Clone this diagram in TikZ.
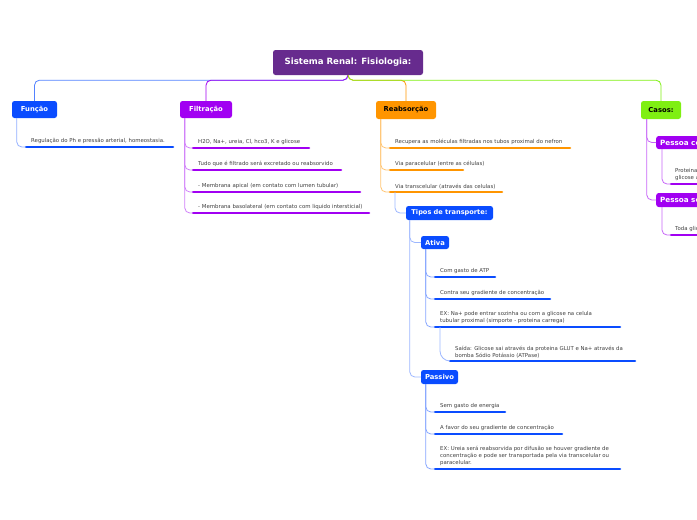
\documentclass[tikz,border=0pt]{standalone}
\usepackage{fontspec}
\setmainfont{DejaVu Sans}
\begin{document}
\begin{tikzpicture}[x=1pt,y=-1pt,
 box/.style={rounded corners=2.5pt,inner sep=0pt,font=\fontsize{6.8}{7}\selectfont\bfseries,text=white},
 leaf/.style={anchor=south west,inner sep=0pt,font=\fontsize{5.4}{7}\selectfont,text=black!75,align=left},
 ul/.style={line width=2.6pt,line cap=round},
 conn/.style={line width=0.8pt,rounded corners=5pt}]
\definecolor{cpurple}{HTML}{672B8E}
\definecolor{cblue}{HTML}{0A4CFF}
\definecolor{cviolet}{HTML}{A100F2}
\definecolor{corange}{HTML}{FF9500}
\definecolor{cgreen}{HTML}{7FEF12}
\useasboundingbox (0,0) rectangle (697,520);
\clip (0,0) rectangle (697,520);
% root
\node[box,fill=cpurple,minimum width=150pt,minimum height=25pt,font=\fontsize{8.6}{9}\selectfont\bfseries] (root) at (348,62.5) {Sistema Renal: Fisiologia:};
\node[box,fill=cblue,minimum width=45pt,minimum height=17pt] (fun) at (34.5,109.5) {Função};
\node[box,fill=cviolet,minimum width=52pt,minimum height=17pt] (fil) at (206,109.5) {Filtração};
\node[box,fill=corange,minimum width=60pt,minimum height=18pt,text=black] (rea) at (406,110) {Reabsorção};
\node[box,fill=cgreen,minimum width=40pt,minimum height=18pt,text=black] (cas) at (661,110) {Casos:};
\draw[conn,cblue!70] (root.south) -- ++(0,5) -| (fun.north);
\draw[conn,cviolet] (root.south) -- ++(0,5) -| (fil.north);
\draw[conn,corange] (root.south) -- ++(0,5) -| (rea.north);
\draw[conn,cgreen] (root.south) -- ++(0,5) -| (cas.north);
% Funcao
\node[leaf] (f1) at (31,144) {Regulação do Ph e pressão arterial, homeostasia.};
\coordinate (f1s) at (26,147); \coordinate (f1e) at (173,147);
\draw[ul,cblue] (f1s) -- (f1e);
\draw[conn,cblue!45] ([xshift=5pt]fun.south west) |- (f1s);
% Filtracao
\foreach \i/\y/\e/\t in {1/148/309/{H2O, Na+, ureia, Cl, hco3, K e glicose},
  2/170/341/{Tudo que é filtrado será excretado ou reabsorvido},
  3/192/360/{- Membrana apical (em contato com lumen tubular)},
  4/213/369/{- Membrana basolateral (em contato com liquido intersticial)}}{
  \node[leaf] (fl\i) at (198,\y-3) {\t};
  \coordinate (fls\i) at (193,\y); \coordinate (fle\i) at (\e,\y);
  \draw[ul,cviolet] (fls\i) -- (fle\i);
  \draw[conn,cviolet!50] ([xshift=5pt]fil.south west) |- (fls\i);
}
% Reabsorcao
\foreach \i/\y/\e/\t in {1/148/570/{Recupera as moléculas filtradas nos tubos proximal do nefron},
  2/170/463/{Via paracelular (entre as células)},
  3/192/502/{Via transcelular (através das celulas)}}{
  \node[leaf] (rl\i) at (395,\y-3) {\t};
  \coordinate (rls\i) at (390,\y); \coordinate (rle\i) at (\e,\y);
  \draw[ul,corange] (rls\i) -- (rle\i);
  \draw[conn,corange!55] ([xshift=5pt]rea.south west) |- (rls\i);
}
\node[box,fill=cblue,minimum width=87pt,minimum height=14pt,font=\fontsize{6.6}{7}\selectfont\bfseries] (tip) at (449.5,213) {Tipos de transporte:};
\draw[conn,cblue!40] ([xshift=5pt]rls3) |- (tip.west);
\node[box,fill=cblue,minimum width=28pt,minimum height=13pt] (ati) at (435,242.5) {Ativa};
\node[box,fill=cblue,minimum width=37pt,minimum height=14pt] (pas) at (439.5,377) {Passivo};
\draw[conn,cblue!40] ([xshift=4pt]tip.south west) |- (ati.west);
\draw[conn,cblue!40] ([xshift=4pt]tip.south west) |- (pas.west);
% Ativa
\foreach \i/\y/\e in {1/277/495,2/299/550,3/327/620}{
  \coordinate (as\i) at (435,\y); \coordinate (ae\i) at (\e,\y);
  \draw[ul,cblue] (as\i) -- (ae\i);
  \draw[conn,cblue!50] ([xshift=5pt]ati.south west) |- (as\i);
}
\node[leaf] (a1) at (440,274) {Com gasto de ATP};
\node[leaf] (a2) at (440,296) {Contra seu gradiente de concentração};
\node[leaf] (a3) at (440,324) {EX: Na+ pode entrar sozinha ou com a glicose na celula\\tubular proximal (simporte - proteina carrega)};
\node[leaf] (a4) at (455,358) {Saída: Glicose sai através da proteina GLUT e Na+ através da\\bomba Sódio Potássio (ATPase)};
\coordinate (a4s) at (450,361); \coordinate (a4e) at (635,361);
\draw[ul,cblue] (a4s) -- (a4e);
\draw[conn,cblue!40,rounded corners=10pt] ([xshift=5pt]as3) |- (a4s);
% Passivo
\foreach \i/\y/\e in {1/412/505,2/434/562,3/469/620}{
  \coordinate (ps\i) at (435,\y); \coordinate (pe\i) at (\e,\y);
  \draw[ul,cblue] (ps\i) -- (pe\i);
  \draw[conn,cblue!50] ([xshift=5pt]pas.south west) |- (ps\i);
}
\node[leaf] (p1) at (440,409) {Sem gasto de energia};
\node[leaf] (p2) at (440,431) {A favor do seu gradiente de concentração};
\node[leaf] (p3) at (440,466) {EX: Ureia será reabsorvida por difusão se houver gradiente de\\concentração e pode ser transportada pela via transcelular ou\\paracelular.};
% Casos
\node[box,fill=cviolet,anchor=west,minimum height=13pt,inner xsep=4pt,font=\fontsize{7.2}{7}\selectfont\bfseries] (pc) at (656,142.5) {Pessoa com diabetes};
\node[box,fill=cviolet,anchor=west,minimum height=14pt,inner xsep=4pt,font=\fontsize{7.2}{7}\selectfont\bfseries] (ps) at (656,200) {Pessoa sem diabetes};
\draw[conn,cviolet!60] ([xshift=6pt]cas.south west) |- (pc.west);
\draw[conn,cviolet!60] ([xshift=6pt]cas.south west) |- (ps.west);
\node[leaf] (c1) at (675,181) {Proteinas na urina e\\glicose alta};
\coordinate (c1s) at (671,184); \coordinate (c1e) at (720,184);
\draw[ul,cviolet] (c1s) -- (c1e);
\draw[conn,cviolet!60] ([xshift=6pt]pc.south west) |- (c1s);
\node[leaf] (c2) at (675,232) {Toda glicose é reabsorvida};
\coordinate (c2s) at (671,235); \coordinate (c2e) at (720,235);
\draw[ul,cviolet] (c2s) -- (c2e);
\draw[conn,cviolet!60] ([xshift=6pt]ps.south west) |- (c2s);
\end{tikzpicture}
\end{document}
